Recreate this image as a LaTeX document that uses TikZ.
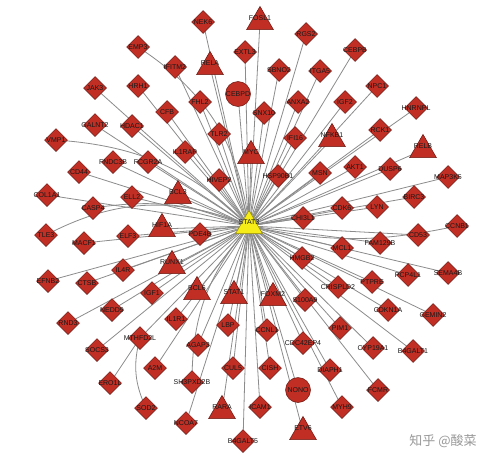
\documentclass[tikz,border=0pt]{standalone}
\usepackage{fontspec}
\setmainfont{Liberation Sans}
\newfontfamily\cjkfont{Noto Sans CJK SC}
\usetikzlibrary{shapes.geometric}
\pgfdeclarelayer{bg}
\pgfsetlayers{bg,main}
\definecolor{nodered}{RGB}{192,46,36}
\definecolor{nodeedge}{RGB}{105,22,16}
\definecolor{hubyellow}{RGB}{246,236,24}
\definecolor{hubedge}{RGB}{150,140,0}
\definecolor{edgegray}{RGB}{140,140,140}
\newcommand\genenode[5]{\node[#4] (#1) at (#2,#3) {}; \node[lab] (#1-t) at (#2,#3) {#5};}
\begin{document}
\begin{tikzpicture}[x=1pt,y=-1pt,
  dia/.style={shape=diamond,fill=nodered,draw=nodeedge,line width=0.5pt,minimum width=23pt,minimum height=23pt,inner sep=0pt},
  tri/.style={regular polygon,regular polygon sides=3,fill=nodered,draw=nodeedge,line width=0.5pt,minimum size=31pt,inner sep=0pt,yshift=-3.9pt},
  circ/.style={circle,fill=nodered,draw=nodeedge,line width=0.5pt,minimum size=25pt,inner sep=0pt},
  hubtri/.style={tri,fill=hubyellow,draw=hubedge},
  lab/.style={font=\fontsize{7}{8}\selectfont,text=black!90,inner sep=0pt},
  edge/.style={draw=edgegray,line width=0.8pt}]
\useasboundingbox (0,0) rectangle (494,463);
\begin{pgfonlayer}{bg}
\fill[white] (0,0) rectangle (494,463);
\end{pgfonlayer}
% hub
\genenode{STAT3}{249}{222}{hubtri}{STAT3}
% triangles
\genenode{FOSL1}{260}{18}{tri}{FOSL1}
\genenode{RELA}{210}{63}{tri}{RELA}
\genenode{NFKB1}{332}{135}{tri}{NFKB1}
\genenode{RELB}{423}{146}{tri}{RELB}
\genenode{MYC}{251}{152}{tri}{MYC}
\genenode{BCL3}{178}{192}{tri}{BCL3}
\genenode{HIF1A}{162}{225}{tri}{HIF1A}
\genenode{RUNX1}{172}{262}{tri}{RUNX1}
\genenode{BCL6}{197}{288}{tri}{BCL6}
\genenode{STAT1}{234}{292}{tri}{STAT1}
\genenode{FOXM2}{273}{294}{tri}{FOXM2}
\genenode{RARA}{222}{407}{tri}{RARA}
\genenode{ETV6}{303}{428}{tri}{ETV6}
% circles
\genenode{CEBPD}{238}{94}{circ}{CEBPD}
\genenode{NONO}{298}{390}{circ}{NONO}
% diamonds
\genenode{NEK6}{203}{22}{dia}{NEK6}
\genenode{RGS2}{306}{34}{dia}{RGS2}
\genenode{EMP3}{138}{47}{dia}{EMP3}
\genenode{EXTL3}{245}{52}{dia}{EXTL3}
\genenode{CEBPB}{355}{50}{dia}{CEBPB}
\genenode{IFITM2}{175}{67}{dia}{IFITM2}
\genenode{SBNO2}{279}{70}{dia}{SBNO2}
\genenode{ITGA5}{320}{71}{dia}{ITGA5}
\genenode{JAK3}{95}{88}{dia}{JAK3}
\genenode{HRH1}{138}{86}{dia}{HRH1}
\genenode{NPC1}{377}{86}{dia}{NPC1}
\genenode{FHL2}{200}{102}{dia}{FHL2}
\genenode{ANXA2}{298}{102}{dia}{ANXA2}
\genenode{IGF2}{345}{102}{dia}{IGF2}
\genenode{HNRNPL}{416}{108}{dia}{HNRNPL}
\genenode{CFB}{167}{112}{dia}{CFB}
\genenode{SNX10}{264}{113}{dia}{SNX10}
\genenode{GALNT2}{95}{125}{dia}{GALNT2}
\genenode{HDAC1}{132}{126}{dia}{HDAC1}
\genenode{TLR2}{219}{134}{dia}{TLR2}
\genenode{IFI16}{295}{138}{dia}{IFI16}
\genenode{IRAK}{380}{130}{dia}{RCK1}
\genenode{VMP1}{56}{140}{dia}{VMP1}
\genenode{IL1RAP}{185}{152}{dia}{IL1RAP}
\genenode{FNDC3B}{113}{162}{dia}{FNDC3B}
\genenode{FCGR2A}{148}{162}{dia}{FCGR2A}
\genenode{CD44}{79}{172}{dia}{CD44}
\genenode{AKT1}{355}{167}{dia}{AKT1}
\genenode{MSN}{320}{173}{dia}{MSN}
\genenode{HSP90B1}{278}{176}{dia}{HSP90B1}
\genenode{HIVEP2}{219}{180}{dia}{HIVEP2}
\genenode{DUSP6}{390}{169}{dia}{DUSP6}
\genenode{MAP3K5}{448}{177}{dia}{MAP3K5}
\genenode{COL1A1}{47}{195}{dia}{COL1A1}
\genenode{ELL2}{132}{197}{dia}{ELL2}
\genenode{BIRC3}{414}{197}{dia}{BIRC3}
\genenode{CASP4}{93}{208}{dia}{CASP4}
\genenode{LYN}{377}{207}{dia}{LYN}
\genenode{CDK6}{342}{208}{dia}{CDK6}
\genenode{CHI3L1}{303}{218}{dia}{CHI3L1}
\genenode{CCNB1}{457}{226}{dia}{CCNB1}
\genenode{PDE4B}{200}{234}{dia}{PDE4B}
\genenode{TLE3}{46}{235}{dia}{TLE3}
\genenode{ELF3}{128}{236}{dia}{ELF3}
\genenode{CD53}{418}{235}{dia}{CD53}
\genenode{MACF1}{84}{243}{dia}{MACF1}
\genenode{FAM129B}{380}{243}{dia}{FAM129B}
\genenode{MCL1}{342}{248}{dia}{MCL1}
\genenode{HMGB2}{302}{258}{dia}{HMGB2}
\genenode{IL4R}{123}{270}{dia}{IL4R}
\genenode{SEMA4B}{448}{273}{dia}{SEMA4B}
\genenode{PCP4L1}{408}{275}{dia}{PCP4L1}
\genenode{EFNB2}{48}{281}{dia}{EFNB2}
\genenode{CTSB}{87}{283}{dia}{CTSB}
\genenode{PTPRE}{372}{282}{dia}{PTPRE}
\genenode{CRISPLD2}{338}{287}{dia}{CRISPLD2}
\genenode{IGF1}{152}{293}{dia}{IGF1}
\genenode{S100A9}{305}{300}{dia}{S100A9}
\genenode{NEDD9}{112}{310}{dia}{NEDD9}
\genenode{CDKN1A}{388}{310}{dia}{CDKN1A}
\genenode{GEM}{433}{315}{dia}{GEMIN2}
\genenode{IL1R1}{176}{319}{dia}{IL1R1}
\genenode{RND3}{68}{323}{dia}{RND3}
\genenode{LBP}{228}{325}{dia}{LBP}
\genenode{PIM1}{340}{328}{dia}{PIM1}
\genenode{CCNL1}{267}{330}{dia}{CCNL1}
\genenode{MTHFD2L}{140}{338}{dia}{MTHFD2L}
\genenode{AGAP3}{198}{345}{dia}{AGAP3}
\genenode{CDC42EP4}{303}{343}{dia}{CDC42EP4}
\genenode{CYP19A1}{373}{348}{dia}{CYP19A1}
\genenode{B4GALT1}{413}{351}{dia}{B4GALT1}
\genenode{SOCS3}{97}{350}{dia}{SOCS3}
\genenode{A2M}{155}{368}{dia}{A2M}
\genenode{CUL5}{233}{368}{dia}{CUL5}
\genenode{CISH}{270}{368}{dia}{CISH}
\genenode{DIAPH1}{330}{370}{dia}{DIAPH1}
\genenode{SH3PXD2B}{192}{382}{dia}{SH3PXD2B}
\genenode{ERO1}{110}{383}{dia}{ERO1L}
\genenode{FGM}{378}{390}{dia}{FCMR}
\genenode{ICAM1}{260}{407}{dia}{ICAM1}
\genenode{MYH9}{342}{407}{dia}{MYH9}
\genenode{SOD2}{146}{408}{dia}{SOD2}
\genenode{NCOA7}{186}{423}{dia}{NCOA7}
\genenode{B4GALT5}{243}{441}{dia}{B4GALT5}
% watermark
\node[text=black!40,font=\cjkfont\fontsize{13}{14}\selectfont,inner sep=0pt] (wm) at (443,441) {知乎 @酸菜};
% edges
\begin{pgfonlayer}{bg}
\foreach \n in {FOSL1,RELA,NFKB1,RELB,MYC,BCL3,HIF1A,RUNX1,BCL6,STAT1,FOXM2,RARA,ETV6,CEBPD,NONO,
 NEK6,RGS2,EXTL3,CEBPB,IFITM2,SBNO2,ITGA5,JAK3,HRH1,NPC1,FHL2,ANXA2,IGF2,HNRNPL,CFB,SNX10,GALNT2,HDAC1,
 TLR2,IFI16,IRAK,IL1RAP,FNDC3B,FCGR2A,CD44,AKT1,MSN,HSP90B1,HIVEP2,DUSP6,MAP3K5,COL1A1,ELL2,BIRC3,
 LYN,CDK6,CHI3L1,PDE4B,ELF3,CD53,MACF1,FAM129B,MCL1,HMGB2,IL4R,SEMA4B,PCP4L1,EFNB2,CTSB,PTPRE,
 CRISPLD2,IGF1,S100A9,NEDD9,CDKN1A,GEM,IL1R1,RND3,LBP,PIM1,CCNL1,MTHFD2L,AGAP3,CDC42EP4,CYP19A1,B4GALT1,
 SOCS3,A2M,CUL5,CISH,DIAPH1,FGM,ICAM1,MYH9,NCOA7,B4GALT5}
  \draw[edge] (STAT3.center) -- (\n.center);
\draw[edge] (EMP3.center) to[bend left=25] (STAT3.center);
\draw[edge] (VMP1.center) to[bend left=20] (STAT3.center);
\draw[edge] (TLE3.center) to[bend left=25] (STAT3.center);
\draw[edge] (CASP4.center) to[bend left=15] (STAT3.center);
\draw[edge] (CCNB1.center) to[bend left=12] (STAT3.center);
\draw[edge] (SH3PXD2B.center) to[bend left=20] (STAT3.center);
\draw[edge] (ERO1.center) -- (MTHFD2L.center);
\draw[edge] (SOD2.center) to[bend left=20] (MTHFD2L.center);
\end{pgfonlayer}
\end{tikzpicture}
\end{document}
